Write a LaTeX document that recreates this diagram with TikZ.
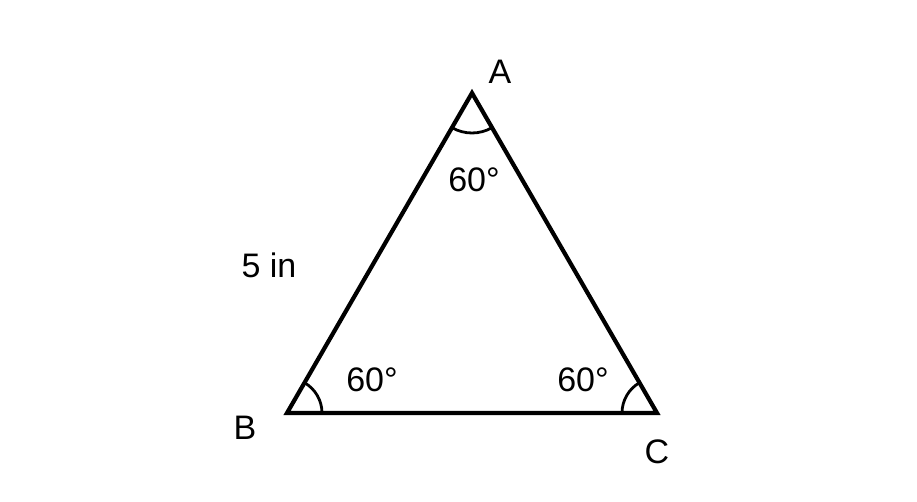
\documentclass[tikz,border=0pt]{standalone}
\usepackage{fontspec}
\setmainfont{Liberation Sans}
\begin{document}
\begin{tikzpicture}[x=1pt,y=-1pt,
  lbl/.style={font=\fontsize{34}{34}\selectfont, inner sep=0pt},
  side/.style={line width=4.2pt, line join=miter},
  angarc/.style={line width=2.8pt}]
\useasboundingbox (0,0) rectangle (917,502);
\coordinate (A) at (472,93);
\coordinate (B) at (287,413);
\coordinate (C) at (657,413);
\draw[side] (A) -- (B) -- (C) -- cycle;
\draw[angarc] (B) ++(0:35) arc[start angle=0, end angle=-60, radius=35];
\draw[angarc] (C) ++(180:35) arc[start angle=180, end angle=240, radius=35];
\draw[angarc] (A) ++(120:40) arc[start angle=120, end angle=60, radius=40];
\node[lbl] (la) at (500,72) {A};
\node[lbl] (lb) at (245,428) {B};
\node[lbl] (lc) at (657,452) {C};
\node[lbl] (ls) at (269,265) {5 in};
\node[lbl] (aa) at (474,180) {60°};
\node[lbl] (ab) at (372,380) {60°};
\node[lbl] (ac) at (583,380) {60°};
\end{tikzpicture}
\end{document}
